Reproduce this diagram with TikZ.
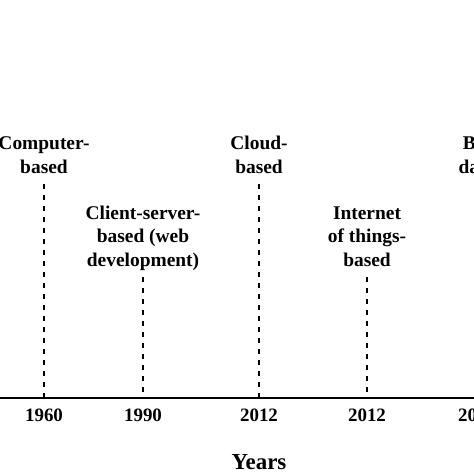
\documentclass[tikz,border=0pt]{standalone}
\usepackage{fontspec}
\setmainfont{Liberation Serif}
\usepackage{tikz}
\usetikzlibrary{positioning}

\tikzset{
  era/.style={font=\fontsize{19.5}{23.8}\selectfont\bfseries, align=center, anchor=south, inner sep=2bp},
  yearlbl/.style={font=\fontsize{19}{22}\selectfont\bfseries, inner sep=0pt},
  guide/.style={line width=1.8bp, dash pattern=on 5bp off 6bp, shorten <=8bp}
}

\begin{document}
\begin{tikzpicture}[x=1bp, y=-1bp]
        \useasboundingbox (0,0) rectangle (474,474);
        \clip (0,0) rectangle (474,474);

        % Time axis
        \coordinate (axisL) at (0,398);
        \coordinate (axisR) at (474,398);
        \draw[line width=1.8bp] (axisL) -- (axisR);

        % Ticks on the axis
        \coordinate (t1) at (44,398);
        \coordinate (t2) at (143,398);
        \coordinate (t3) at (259,398);
        \coordinate (t4) at (367,398);
        \coordinate (t5) at (477,398);

        % Eras
        \node[era] (computer) at (44,176) {Computer-\\based};
        \node[era] (client) at (143,273) {Client-server-\\based (web\\development)};
        \node[era] (cloud) at (259,176) {Cloud-\\based};
        \node[era] (iot) at (367,269) {Internet\\of things-\\based};
        \node[era] (bigdata) at (477,176) {Big\\data};

        % Guide lines
        \draw[guide] (computer.south) -- (t1);
        \draw[guide, shorten <=4bp] (client.south) -- (t2);
        \draw[guide] (cloud.south) -- (t3);
        \draw[guide] (iot.south) -- (t4);
        \draw[guide] (bigdata.south) -- (t5);

        % Years
        \node[yearlbl, below=11bp of t1] (y1) {1960};
        \node[yearlbl, below=11bp of t2] (y2) {1990};
        \node[yearlbl, below=11bp of t3] (y3) {2012};
        \node[yearlbl, below=11bp of t4] (y4) {2012};
        \node[yearlbl, below=11bp of t5] (y5) {2015};

        % Label
        \node[font=\fontsize{23}{26}\selectfont\bfseries] (years) at (259,462) {Years};
      \end{tikzpicture}
\end{document}
